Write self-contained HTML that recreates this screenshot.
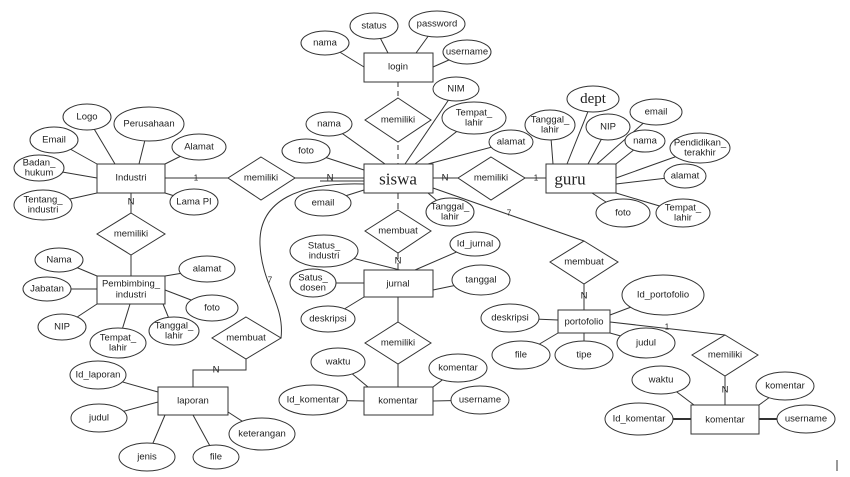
<!DOCTYPE html>
<html><head><meta charset="utf-8"><style>
html,body{margin:0;padding:0;background:#fff;width:850px;height:477px;overflow:hidden}
svg text{font-family:"Liberation Sans",sans-serif;font-size:9.5px;fill:#222;text-anchor:middle;dominant-baseline:central}
.s{font-family:"Liberation Serif",serif;font-size:17px}
</style></head><body>
<svg width="850" height="477" viewBox="0 0 850 477" xmlns="http://www.w3.org/2000/svg">
<g stroke="#333" stroke-width="1" fill="none">
<!-- login -->
<line x1="325" y1="43" x2="364" y2="67"/><line x1="374" y1="26" x2="388" y2="53"/><line x1="437" y1="24" x2="416" y2="53"/><line x1="467" y1="52" x2="433" y2="67"/>
<line x1="398" y1="82" x2="398" y2="164" stroke-dasharray="5,4"/>
<!-- siswa -->
<line x1="329" y1="124" x2="385" y2="164"/><line x1="306" y1="151" x2="364" y2="170"/><line x1="323" y1="203" x2="364" y2="190"/>
<line x1="456" y1="89" x2="405" y2="164"/><line x1="474" y1="118" x2="415" y2="164"/><line x1="511" y1="142" x2="428" y2="164"/><line x1="450" y1="212" x2="428" y2="193"/>
<!-- industri -->
<line x1="87" y1="117" x2="115" y2="164"/><line x1="149" y1="124" x2="139" y2="164"/><line x1="54" y1="140" x2="97" y2="164"/><line x1="199" y1="147" x2="165" y2="164"/>
<line x1="39" y1="168" x2="97" y2="178"/><line x1="43" y1="205" x2="97" y2="193"/><line x1="194" y1="202" x2="165" y2="193"/>
<line x1="165" y1="178" x2="228" y2="178"/><line x1="295" y1="178" x2="364" y2="178"/><line x1="320" y1="181" x2="364" y2="181"/>
<line x1="131" y1="193" x2="131" y2="276"/>
<!-- pembimbing -->
<line x1="59" y1="260" x2="97" y2="276"/><line x1="47" y1="289" x2="97" y2="289"/><line x1="62" y1="327" x2="97" y2="304"/><line x1="118" y1="343" x2="130" y2="304"/>
<line x1="174" y1="331" x2="163" y2="304"/><line x1="212" y1="308" x2="165" y2="290"/><line x1="207" y1="269" x2="165" y2="276"/>
<!-- guru -->
<line x1="593" y1="99" x2="567" y2="164"/><line x1="550" y1="125" x2="553" y2="164"/><line x1="608" y1="127" x2="588" y2="164"/><line x1="656" y1="112" x2="597" y2="164"/>
<line x1="645" y1="141" x2="616" y2="164"/><line x1="700" y1="148" x2="616" y2="178"/><line x1="685" y1="176" x2="616" y2="184"/><line x1="683" y1="213" x2="616" y2="193"/><line x1="623" y1="213" x2="592" y2="193"/>
<line x1="433" y1="178" x2="546" y2="178"/>
<line x1="433" y1="188" x2="584" y2="241"/><line x1="584" y1="284" x2="584" y2="310"/>
<!-- jurnal -->
<line x1="324" y1="251" x2="400" y2="270"/><line x1="313" y1="283" x2="364" y2="283"/><line x1="328" y1="319" x2="364" y2="297"/><line x1="475" y1="244" x2="415" y2="270"/><line x1="481" y1="280" x2="433" y2="290"/>
<line x1="398" y1="193" x2="398" y2="270" stroke-dasharray="6,4"/>
<line x1="398" y1="297" x2="398" y2="387"/>
<!-- komentar left -->
<line x1="338" y1="362" x2="368" y2="387"/><line x1="313" y1="400" x2="364" y2="401"/><line x1="458" y1="368" x2="433" y2="387"/><line x1="480" y1="400" x2="433" y2="401"/>
<!-- portofolio -->
<line x1="663" y1="295" x2="610" y2="315"/><line x1="510" y1="318" x2="558" y2="320"/><line x1="521" y1="355" x2="558" y2="333"/><line x1="584" y1="355" x2="584" y2="333"/><line x1="646" y1="343" x2="610" y2="333"/>
<line x1="610" y1="322" x2="725" y2="335"/><line x1="725" y1="376" x2="725" y2="405"/>
<!-- komentar right -->
<line x1="661" y1="380" x2="694" y2="405"/><line x1="639" y1="419" x2="691" y2="419" stroke-width="2"/><line x1="785" y1="386" x2="759" y2="405"/><line x1="806" y1="419" x2="759" y2="419" stroke-width="2"/>
<!-- laporan -->
<polyline points="246,359 246,370 193,370 193,387"/>
<line x1="98" y1="375" x2="158" y2="392"/><line x1="99" y1="418" x2="158" y2="402"/><line x1="147" y1="457" x2="165" y2="415"/><line x1="216" y1="457" x2="193" y2="415"/><line x1="262" y1="434" x2="228" y2="412"/>
<path d="M364,184 C300,182 258,200 260,245 C262,285 285,305 281,338"/>
<line x1="837" y1="460" x2="837" y2="471"/>
</g>
<g stroke="#333" stroke-width="1" fill="#fff">
<!-- entities -->
<rect x="364" y="53" width="69" height="29"/>
<rect x="364" y="164" width="69" height="29"/>
<rect x="97" y="164" width="68" height="29"/>
<rect x="97" y="276" width="68" height="28"/>
<rect x="546" y="164" width="70" height="29"/>
<rect x="364" y="270" width="69" height="27"/>
<rect x="364" y="387" width="69" height="28"/>
<rect x="558" y="310" width="52" height="23"/>
<rect x="691" y="405" width="68" height="29"/>
<rect x="158" y="387" width="70" height="28"/>
<!-- diamonds -->
<polygon points="398,98 431,120 398,142 365,120"/>
<polygon points="261,157 295,178 261,200 228,178"/>
<polygon points="131,213 165,234 131,255 97,234"/>
<polygon points="491,157 525,178 491,200 458,178"/>
<polygon points="398,210 431,231 398,253 365,231"/>
<polygon points="398,322 431,343 398,364 365,343"/>
<polygon points="584,241 618,262 584,284 550,262"/>
<polygon points="725,335 758,355 725,376 692,355"/>
<polygon points="246,317 281,338 246,359 212,338"/>
<!-- ellipses -->
<ellipse cx="325" cy="43" rx="24" ry="12"/><ellipse cx="374" cy="26" rx="24" ry="13"/><ellipse cx="437" cy="24" rx="28" ry="13"/><ellipse cx="467" cy="52" rx="24" ry="12"/>
<ellipse cx="456" cy="89" rx="23" ry="12"/><ellipse cx="474" cy="118" rx="32" ry="16"/><ellipse cx="329" cy="124" rx="23" ry="12"/><ellipse cx="306" cy="151" rx="24" ry="12"/><ellipse cx="323" cy="203" rx="28" ry="13"/><ellipse cx="511" cy="142" rx="22" ry="12"/><ellipse cx="450" cy="212" rx="24" ry="14"/>
<ellipse cx="87" cy="117" rx="24" ry="13"/><ellipse cx="149" cy="124" rx="35" ry="17"/><ellipse cx="54" cy="140" rx="24" ry="13"/><ellipse cx="199" cy="147" rx="27" ry="13"/><ellipse cx="39" cy="168" rx="25" ry="13"/><ellipse cx="43" cy="205" rx="29" ry="15"/><ellipse cx="194" cy="202" rx="24" ry="13"/>
<ellipse cx="59" cy="260" rx="24" ry="12"/><ellipse cx="47" cy="289" rx="24" ry="12"/><ellipse cx="62" cy="327" rx="24" ry="13"/><ellipse cx="118" cy="343" rx="28" ry="15"/><ellipse cx="174" cy="331" rx="25" ry="14"/><ellipse cx="212" cy="308" rx="26" ry="13"/><ellipse cx="207" cy="269" rx="28" ry="13"/>
<ellipse cx="593" cy="99" rx="26" ry="13"/><ellipse cx="550" cy="125" rx="25" ry="15"/><ellipse cx="608" cy="127" rx="22" ry="13"/><ellipse cx="656" cy="112" rx="26" ry="13"/><ellipse cx="645" cy="141" rx="20" ry="11"/><ellipse cx="700" cy="148" rx="30" ry="15"/><ellipse cx="685" cy="176" rx="21" ry="12"/><ellipse cx="683" cy="213" rx="27" ry="14"/><ellipse cx="623" cy="213" rx="27" ry="14"/>
<ellipse cx="324" cy="251" rx="34" ry="16"/><ellipse cx="313" cy="283" rx="23" ry="14"/><ellipse cx="328" cy="319" rx="27" ry="13"/><ellipse cx="475" cy="244" rx="25" ry="12"/><ellipse cx="481" cy="280" rx="29" ry="15"/>
<ellipse cx="338" cy="362" rx="27" ry="14"/><ellipse cx="313" cy="400" rx="34" ry="15"/><ellipse cx="458" cy="368" rx="29" ry="14"/><ellipse cx="480" cy="400" rx="29" ry="14"/>
<ellipse cx="663" cy="295" rx="41" ry="20"/><ellipse cx="510" cy="318" rx="29" ry="14"/><ellipse cx="521" cy="355" rx="29" ry="14"/><ellipse cx="584" cy="355" rx="29" ry="14"/><ellipse cx="646" cy="343" rx="29" ry="15"/>
<ellipse cx="661" cy="380" rx="29" ry="14"/><ellipse cx="639" cy="419" rx="34" ry="16"/><ellipse cx="785" cy="386" rx="29" ry="14"/><ellipse cx="806" cy="419" rx="29" ry="14"/>
<ellipse cx="98" cy="375" rx="28" ry="14"/><ellipse cx="99" cy="418" rx="28" ry="14"/><ellipse cx="147" cy="457" rx="28" ry="14"/><ellipse cx="216" cy="457" rx="23" ry="12"/><ellipse cx="262" cy="434" rx="33" ry="16"/>
</g>
<g>
<text x="398" y="67">login</text><text x="398" y="179" class="s">siswa</text><text x="131" y="178">Industri</text>
<text x="131" y="284">Pembimbing_</text><text x="131" y="295">industri</text>
<text x="570" y="179" class="s">guru</text><text x="398" y="284">jurnal</text><text x="398" y="401">komentar</text><text x="584" y="322">portofolio</text><text x="725" y="420">komentar</text><text x="193" y="401">laporan</text>
<text x="398" y="120">memiliki</text><text x="261" y="178">memiliki</text><text x="131" y="234">memiliki</text><text x="491" y="178">memiliki</text><text x="398" y="231">membuat</text><text x="398" y="343">memiliki</text><text x="584" y="262">membuat</text><text x="725" y="355">memiliki</text><text x="246" y="338">membuat</text>
<text x="325" y="43">nama</text><text x="374" y="26">status</text><text x="437" y="24">password</text><text x="467" y="52">username</text>
<text x="456" y="89">NIM</text><text x="474" y="113">Tempat_</text><text x="474" y="123">lahir</text><text x="329" y="124">nama</text><text x="306" y="151">foto</text><text x="323" y="203">email</text><text x="511" y="142">alamat</text><text x="450" y="207">Tanggal_</text><text x="450" y="217">lahir</text>
<text x="87" y="117">Logo</text><text x="149" y="124">Perusahaan</text><text x="54" y="140">Email</text><text x="199" y="147">Alamat</text><text x="39" y="163">Badan_</text><text x="39" y="173">hukum</text><text x="43" y="200">Tentang_</text><text x="43" y="210">industri</text><text x="194" y="202">Lama PI</text>
<text x="59" y="260">Nama</text><text x="47" y="289">Jabatan</text><text x="62" y="327">NIP</text><text x="118" y="338">Tempat_</text><text x="118" y="348">lahir</text><text x="174" y="326">Tanggal_</text><text x="174" y="336">lahir</text><text x="212" y="308">foto</text><text x="207" y="269">alamat</text>
<text x="593" y="99" class="s" style="font-size:15px">dept</text><text x="550" y="120">Tanggal_</text><text x="550" y="130">lahir</text><text x="608" y="127">NIP</text><text x="656" y="112">email</text><text x="645" y="141">nama</text><text x="700" y="143">Pendidikan_</text><text x="700" y="153">terakhir</text><text x="685" y="176">alamat</text><text x="683" y="208">Tempat_</text><text x="683" y="218">lahir</text><text x="623" y="213">foto</text>
<text x="324" y="246">Status_</text><text x="324" y="256">industri</text><text x="313" y="278">Satus_</text><text x="313" y="288">dosen</text><text x="328" y="319">deskripsi</text><text x="475" y="244">Id_jurnal</text><text x="481" y="280">tanggal</text>
<text x="338" y="362">waktu</text><text x="313" y="400">Id_komentar</text><text x="458" y="368">komentar</text><text x="480" y="400">username</text>
<text x="663" y="295">Id_portofolio</text><text x="510" y="318">deskripsi</text><text x="521" y="355">file</text><text x="584" y="355">tipe</text><text x="646" y="343">judul</text>
<text x="661" y="380">waktu</text><text x="639" y="419">Id_komentar</text><text x="785" y="386">komentar</text><text x="806" y="419">username</text>
<text x="98" y="375">Id_laporan</text><text x="99" y="418">judul</text><text x="147" y="457">jenis</text><text x="216" y="457">file</text><text x="262" y="434">keterangan</text>
<text x="196" y="178" style="font-size:8px">1</text><text x="330" y="178">N</text><text x="131" y="202">N</text><text x="445" y="178">N</text><text x="536" y="178" style="font-size:8px">1</text><text x="398" y="261">N</text><text x="584" y="296">N</text><text x="667" y="327" style="font-size:8px">1</text><text x="725" y="390">N</text><text x="216" y="370">N</text><text x="509" y="213" style="font-size:8px">7</text><text x="270" y="280" style="font-size:8px">7</text>
</g>
</svg>
</body></html>
